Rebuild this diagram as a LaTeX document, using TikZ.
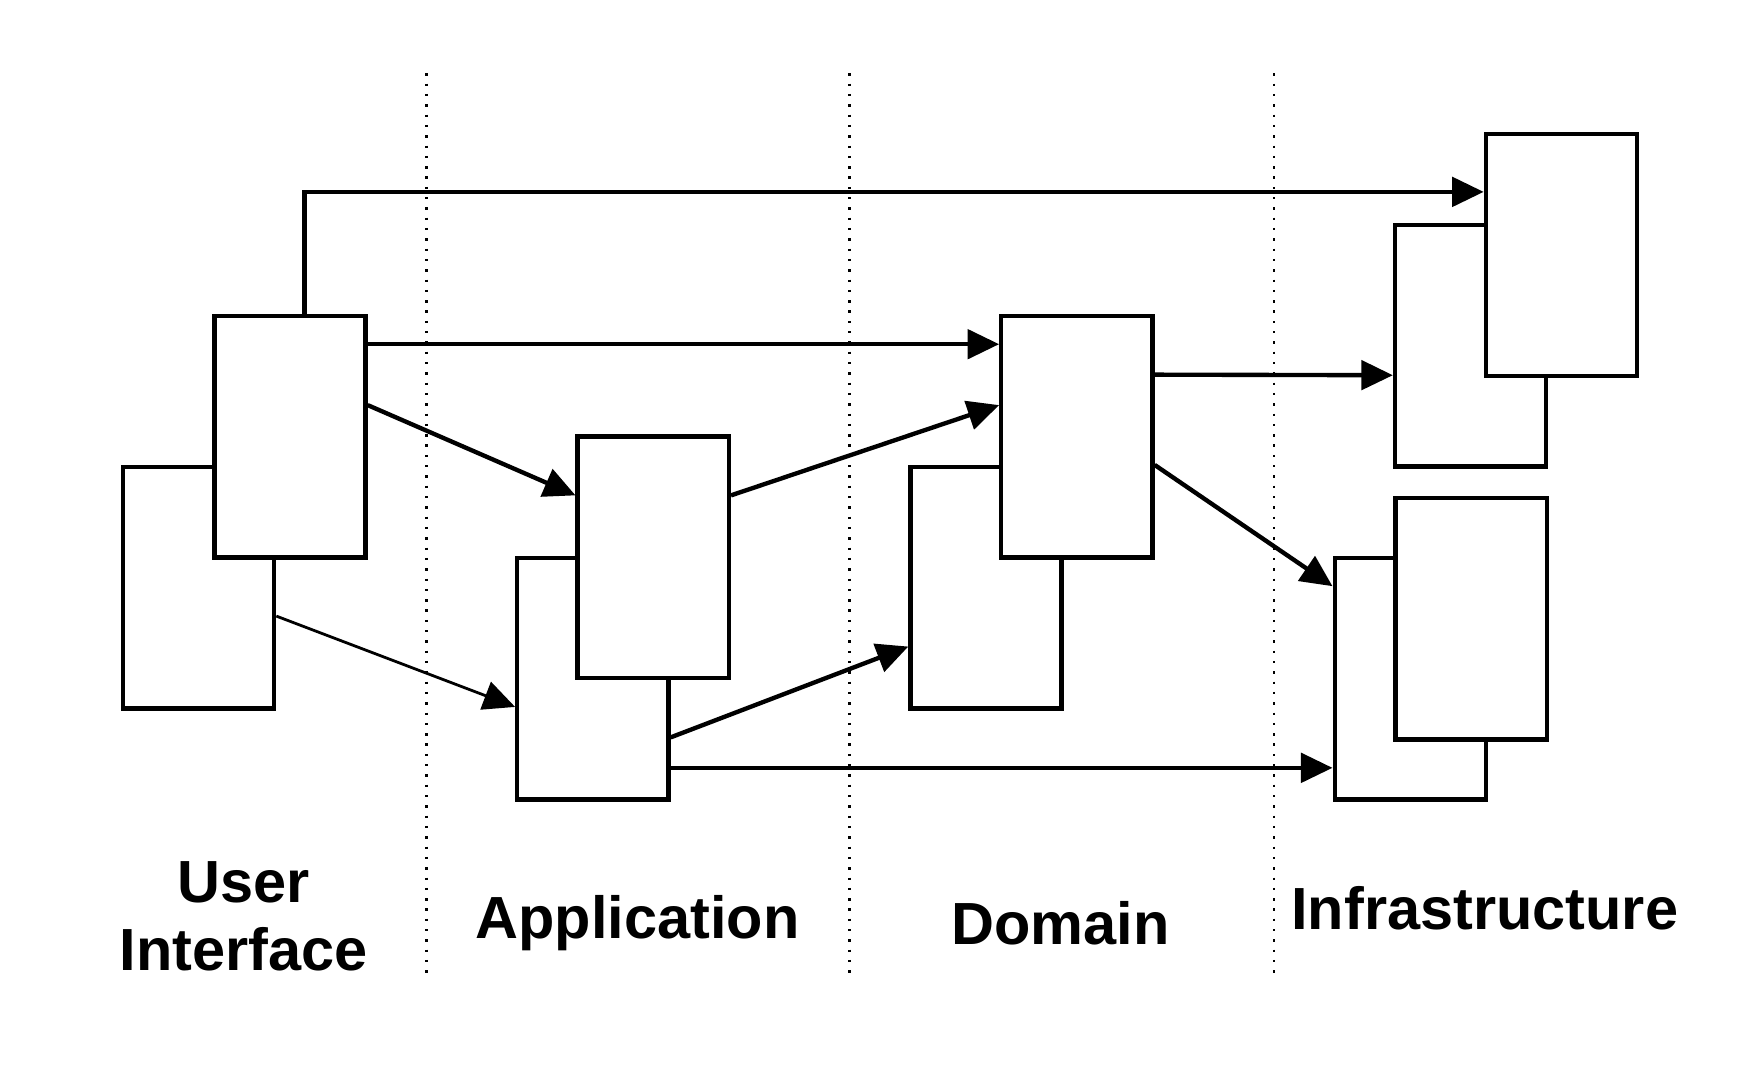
\documentclass[tikz,border=0pt]{standalone}
\usepackage{fontspec}
\setmainfont{Liberation Sans}
\usetikzlibrary{arrows.meta}
\begin{document}
\begin{tikzpicture}[x=1cm,y=1cm,
  box/.style={draw,line width=1.1pt,fill=white,minimum width=1.34cm,minimum height=2.14cm,inner sep=0pt},
  arr/.style={line width=1.1pt,-{Triangle[length=0.28cm,width=0.26cm]}},
  thin arr/.style={line width=0.7pt,-{Triangle[length=0.28cm,width=0.26cm]}},
  sep/.style={dotted,line width=0.6pt},
  lab/.style={font=\bfseries\fontsize{15}{17}\selectfont,align=center}]
\useasboundingbox (0,0) rectangle (15.6,-9.66);
% separators
\coordinate (s1t) at (3.78,-0.65); \coordinate (s1b) at (3.78,-8.65);
\coordinate (s2t) at (7.53,-0.65); \coordinate (s2b) at (7.53,-8.65);
\coordinate (s3t) at (11.29,-0.65); \coordinate (s3b) at (11.29,-8.65);
\draw[sep] (s1t) -- (s1b);
\draw[sep] (s2t) -- (s2b);
\draw[sep] (s3t) -- (s3b);
% boxes
\node[box] (uib) at (1.76,-5.21) {};
\node[box] (uif) at (2.57,-3.87) {};
\node[box] (apb) at (5.255,-6.015) {};
\node[box] (apf) at (5.79,-4.94) {};
\node[box] (dob) at (8.74,-5.21) {};
\node[box] (dof) at (9.545,-3.87) {};
\node[box] (itb) at (13.035,-3.065) {};
\node[box] (itf) at (13.84,-2.26) {};
\node[box] (ibb) at (12.50,-6.015) {};
\node[box] (ibf) at (13.04,-5.485) {};
% arrows
\draw[arr] ([xshift=0.13cm]uif.north) |- ([yshift=-0.53cm]itf.north west);
\draw[arr] ([yshift=-0.27cm]uif.north east) -- ([yshift=-0.27cm]dof.north west);
\draw[arr] ([yshift=-0.81cm]uif.north east) -- ([yshift=-0.54cm]apf.north west);
\draw[thin arr] ([yshift=-1.34cm]uib.north east) -- ([yshift=-1.34cm]apb.north west);
\draw[arr] ([yshift=-0.54cm]apf.north east) -- ([yshift=-0.81cm]dof.north west);
\draw[arr] ([yshift=-1.61cm]apb.north east) -- ([yshift=-1.61cm]dob.north west);
\draw[arr] ([yshift=-1.88cm]apb.north east) -- ([yshift=-1.88cm]ibb.north west);
\draw[arr] ([yshift=-0.54cm]dof.north east) -- ([yshift=-1.35cm]itb.north west);
\draw[arr] ([yshift=-1.34cm]dof.north east) -- ([yshift=-0.27cm]ibb.north west);
% labels
\node[lab] (l1) at (2.16,-8.12) {User\\Interface};
\node[lab] (l2) at (5.65,-8.18) {Application};
\node[lab] (l3) at (9.40,-8.18) {Domain};
\node[lab] (l4) at (13.16,-8.05) {Infrastructure};
\end{tikzpicture}
\end{document}
